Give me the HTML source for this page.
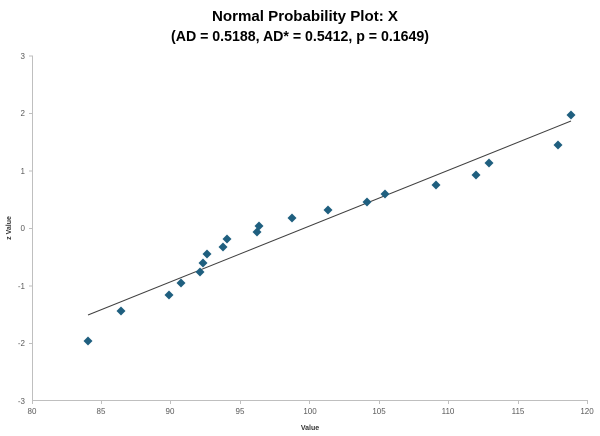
<!DOCTYPE html>
<html><head><meta charset="utf-8"><style>
body{margin:0;background:#fff;}
svg{display:block;font-family:"Liberation Sans",sans-serif;}
</style></head><body>
<svg width="600" height="436" viewBox="0 0 600 436">
<text x="305" y="21" text-anchor="middle" font-size="15" font-weight="bold" fill="#000" textLength="186" lengthAdjust="spacingAndGlyphs">Normal Probability Plot: X</text>
<text x="300" y="41" text-anchor="middle" font-size="15" font-weight="bold" fill="#000" textLength="258" lengthAdjust="spacingAndGlyphs">(AD = 0.5188, AD* = 0.5412, p = 0.1649)</text>
<g stroke="#bfbfbf" stroke-width="1">
<line x1="32.5" y1="55.5" x2="32.5" y2="401"/>
<line x1="32" y1="400.5" x2="588" y2="400.5"/>
<line x1="29" y1="56" x2="32" y2="56"/><line x1="29" y1="113.5" x2="32" y2="113.5"/><line x1="29" y1="171" x2="32" y2="171"/><line x1="29" y1="228.5" x2="32" y2="228.5"/><line x1="29" y1="286" x2="32" y2="286"/><line x1="29" y1="343.5" x2="32" y2="343.5"/>
<line x1="32.5" y1="401" x2="32.5" y2="404"/><line x1="101.5" y1="401" x2="101.5" y2="404"/><line x1="170.5" y1="401" x2="170.5" y2="404"/><line x1="240.5" y1="401" x2="240.5" y2="404"/><line x1="309.5" y1="401" x2="309.5" y2="404"/><line x1="379.5" y1="401" x2="379.5" y2="404"/><line x1="448.5" y1="401" x2="448.5" y2="404"/><line x1="518.5" y1="401" x2="518.5" y2="404"/><line x1="587.5" y1="401" x2="587.5" y2="404"/>
</g>
<g font-size="8" fill="#595959" text-anchor="end">
<text x="25" y="59">3</text><text x="25" y="116">2</text><text x="25" y="174">1</text><text x="25" y="231">0</text><text x="25" y="289">-1</text><text x="25" y="346">-2</text><text x="25" y="404">-3</text>
</g>
<g font-size="8" fill="#595959" text-anchor="middle">
<text x="32" y="414">80</text><text x="101" y="414">85</text><text x="170" y="414">90</text><text x="240" y="414">95</text><text x="310" y="414">100</text><text x="379" y="414">105</text><text x="448" y="414">110</text><text x="518" y="414">115</text><text x="587" y="414">120</text>
</g>
<text x="310" y="430" text-anchor="middle" font-size="7" font-weight="bold" fill="#333">Value</text>
<text transform="translate(11,228) rotate(-90)" text-anchor="middle" font-size="7" font-weight="bold" fill="#333">z Value</text>
<line x1="88" y1="315" x2="571" y2="121" stroke="#404040" stroke-width="1"/>
<g fill="#1f5f7f">
<path d="M0,-4.5L4.5,0L0,4.5L-4.5,0Z" transform="translate(88,341)"/>
<path d="M0,-4.5L4.5,0L0,4.5L-4.5,0Z" transform="translate(121,311)"/>
<path d="M0,-4.5L4.5,0L0,4.5L-4.5,0Z" transform="translate(169,295)"/>
<path d="M0,-4.5L4.5,0L0,4.5L-4.5,0Z" transform="translate(181,283)"/>
<path d="M0,-4.5L4.5,0L0,4.5L-4.5,0Z" transform="translate(200,272)"/>
<path d="M0,-4.5L4.5,0L0,4.5L-4.5,0Z" transform="translate(203,263)"/>
<path d="M0,-4.5L4.5,0L0,4.5L-4.5,0Z" transform="translate(207,254)"/>
<path d="M0,-4.5L4.5,0L0,4.5L-4.5,0Z" transform="translate(223,247)"/>
<path d="M0,-4.5L4.5,0L0,4.5L-4.5,0Z" transform="translate(227,239)"/>
<path d="M0,-4.5L4.5,0L0,4.5L-4.5,0Z" transform="translate(257,232)"/>
<path d="M0,-4.5L4.5,0L0,4.5L-4.5,0Z" transform="translate(259,226)"/>
<path d="M0,-4.5L4.5,0L0,4.5L-4.5,0Z" transform="translate(292,218)"/>
<path d="M0,-4.5L4.5,0L0,4.5L-4.5,0Z" transform="translate(328,210)"/>
<path d="M0,-4.5L4.5,0L0,4.5L-4.5,0Z" transform="translate(367,202)"/>
<path d="M0,-4.5L4.5,0L0,4.5L-4.5,0Z" transform="translate(385,194)"/>
<path d="M0,-4.5L4.5,0L0,4.5L-4.5,0Z" transform="translate(436,185)"/>
<path d="M0,-4.5L4.5,0L0,4.5L-4.5,0Z" transform="translate(476,175)"/>
<path d="M0,-4.5L4.5,0L0,4.5L-4.5,0Z" transform="translate(489,163)"/>
<path d="M0,-4.5L4.5,0L0,4.5L-4.5,0Z" transform="translate(558,145)"/>
<path d="M0,-4.5L4.5,0L0,4.5L-4.5,0Z" transform="translate(571,115)"/>
</g>
</svg>
</body></html>
